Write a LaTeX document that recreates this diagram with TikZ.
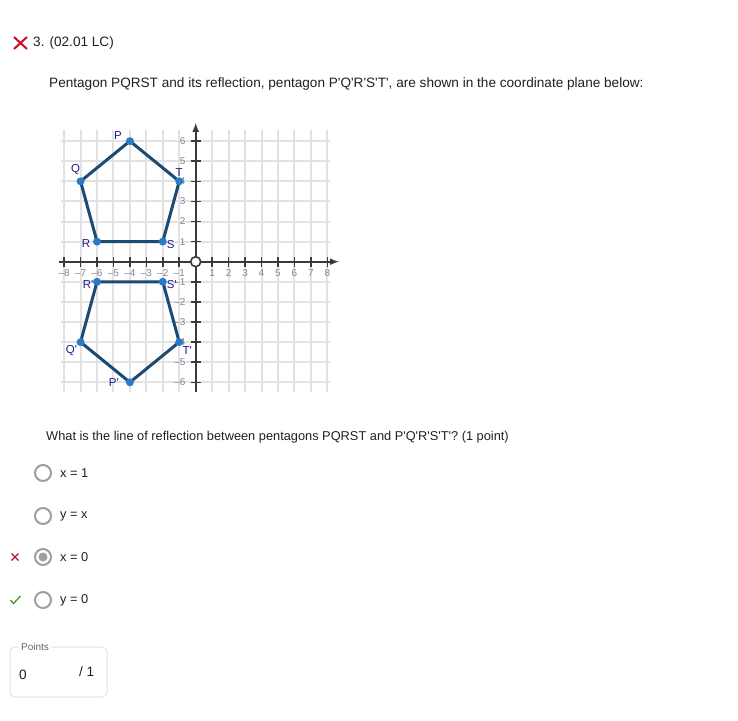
\documentclass[tikz,border=0pt]{standalone}
\usepackage{fontspec}
\setmainfont{Liberation Sans}
\usepackage{tikz}
\definecolor{navy}{HTML}{1B4A72}
\definecolor{dotblue}{HTML}{2A7BC6}
\definecolor{lblblue}{HTML}{1E1E8C}
\definecolor{tickgrey}{HTML}{7E879C}
\definecolor{gridgrey}{HTML}{E2E2E2}
\definecolor{axisgrey}{HTML}{3A3A3A}
\definecolor{wrongred}{HTML}{C0102A}
\definecolor{rightgreen}{HTML}{4A9A2A}
\definecolor{radiogrey}{HTML}{9E9E9E}
\definecolor{txt}{HTML}{212121}
\newcommand{\pr}{\textquotesingle}
\tikzstyle{gridln}=[gridgrey,line width=2pt]
\tikzstyle{axisln}=[axisgrey,line width=2pt,-latex]
\tikzstyle{tick}=[axisgrey,line width=1.6pt]
\tikzstyle{ticklbl}=[text=tickgrey,font=\fontsize{10}{12}\selectfont,inner sep=1pt]
\tikzstyle{edge}=[navy,line width=3pt,line join=round]
\tikzstyle{pt}=[circle,fill=dotblue,inner sep=0pt,minimum size=8pt]
\tikzstyle{lbl}=[text=lblblue,font=\fontsize{11.5}{13}\selectfont,inner sep=0pt]
\tikzstyle{radio}=[circle,draw=radiogrey,line width=2pt,inner sep=0pt,minimum size=16pt]
\tikzstyle{body}=[text=txt,font=\fontsize{13.6}{16}\selectfont,inner sep=0pt,anchor=west]
\tikzstyle{small}=[body,font=\fontsize{12.8}{15}\selectfont]

\begin{document}
\begin{tikzpicture}[x=1pt,y=-1pt]
  \useasboundingbox[fill=white] (0,0) rectangle (738,720);

  % heading
  \coordinate (xa) at (14,37); \coordinate (xb) at (27,49);
  \coordinate (xc) at (27,37); \coordinate (xd) at (14,49);
  \draw[wrongred,line width=2pt] (xa)--(xb) (xc)--(xd);
  \node[body] (head) at (33,43) {3. (02.01 LC)};
  \node[body] (intro) at (49,84) {Pentagon PQRST and its reflection, pentagon P\pr Q\pr R\pr S\pr T\pr, are shown in the coordinate plane below:};

  % coordinate plane
  \begin{scope}[shift={(195.7,261.7)},x=16.45pt,y=20.1pt]
    \foreach \i in {-8,...,8} \draw[gridln] (\i,-6.5)--(\i,6.55);
    \foreach \j in {-6,...,6} \draw[gridln] (-8.2,\j)--(8.15,\j);
    \coordinate (xl) at (-8.3,0); \coordinate (xr) at (8.7,0);
    \coordinate (yb) at (0,-6.5); \coordinate (yt) at (0,6.9);
    \draw[axisln] (xl)--(xr);
    \draw[axisln] (yb)--(yt);
    \foreach \i/\s in {-8/\textendash8,-7/\textendash7,-6/\textendash6,-5/\textendash5,-4/\textendash4,-3/\textendash3,-2/\textendash2,-1/\textendash1,1/1,2/2,3/3,4/4,5/5,6/6,7/7,8/8} {
      \draw[tick] (\i,-0.25)--(\i,0.25);
      \node[ticklbl] (tx\i) at (\i,-0.55) {\s};
    }
    \foreach \j/\s in {-6/\textendash6,-5/\textendash5,-4/\textendash4,-3/\textendash3,-2/\textendash2,-1/\textendash1,1/1,2/2,3/3,4/4,5/5,6/6} {
      \draw[tick] (-0.3,\j)--(0.3,\j);
      \node[ticklbl,anchor=east] (ty\j) at (-0.55,\j) {\s};
    }
    \node[circle,draw=axisgrey,line width=1.6pt,fill=white,inner sep=0pt,minimum size=10pt] (O) at (0,0) {};

    % pentagon PQRST
    \coordinate (P) at (-4,6); \coordinate (Q) at (-7,4); \coordinate (R) at (-6,1);
    \coordinate (S) at (-2,1); \coordinate (T) at (-1,4);
    \draw[edge] (P)--(Q)--(R)--(S)--(T)--cycle;
    % pentagon P'Q'R'S'T'
    \coordinate (P') at (-4,-6); \coordinate (Q') at (-7,-4); \coordinate (R') at (-6,-1);
    \coordinate (S') at (-2,-1); \coordinate (T') at (-1,-4);
    \draw[edge] (P')--(Q')--(R')--(S')--(T')--cycle;

    \foreach \v in {P,Q,R,S,T,P',Q',R',S',T'} \node[pt] at (\v) {};

    \node[lbl] (lP) at ([xshift=-12pt,yshift=6pt]P) {P};
    \node[lbl] (lQ) at ([xshift=-5pt,yshift=12pt]Q) {Q};
    \node[lbl] (lT) at ([xshift=0pt,yshift=9pt]T) {T};
    \node[lbl] (lR) at ([xshift=-11pt,yshift=-2pt]R) {R};
    \node[lbl] (lS) at ([xshift=8pt,yshift=-3pt]S) {S};
    \node[lbl] (lR') at ([xshift=-9pt,yshift=-3pt]R') {R\pr};
    \node[lbl] (lS') at ([xshift=9pt,yshift=-3pt]S') {S\pr};
    \node[lbl] (lQ') at ([xshift=-9pt,yshift=-8pt]Q') {Q\pr};
    \node[lbl] (lT') at ([xshift=8pt,yshift=-8pt]T') {T\pr};
    \node[lbl] (lP') at ([xshift=-16pt,yshift=0pt]P') {P\pr};
  \end{scope}

  % question and options
  \node[small] (quest) at (46,437) {What is the line of reflection between pentagons PQRST and P\pr Q\pr R\pr S\pr T\pr? (1 point)};
  \node[radio] (o1) at (43,473) {};
  \node[radio] (o2) at (43,516) {};
  \node[radio] (o3) at (43,557) {};
  \node[radio] (o4) at (43,600) {};
  \node[circle,fill=radiogrey,inner sep=0pt,minimum size=9pt] (sel) at (o3) {};
  \node[small] (t1) at (60,473) {x = 1};
  \node[small] (t2) at (60,516) {y = x};
  \node[small] (t3) at (60,557) {x = 0};
  \node[small] (t4) at (60,600) {y = 0};
  \coordinate (ma) at (11.5,553.5); \coordinate (mb) at (18.5,560.5);
  \coordinate (mc) at (18.5,553.5); \coordinate (md) at (11.5,560.5);
  \draw[wrongred,line width=1.3pt] (ma)--(mb) (mc)--(md);
  \coordinate (ca) at (10.5,600); \coordinate (cb) at (13.5,603.5); \coordinate (cc) at (20.5,596);
  \draw[rightgreen,line width=1.3pt] (ca)--(cb)--(cc);

  % points box
  \draw[gridgrey,line width=1pt,rounded corners=5pt] (10,647) rectangle (107,697);
  \node[fill=white,text=black!60,font=\fontsize{10}{12}\selectfont,inner sep=2pt] (ptsl) at (35,647) {Points};
  \node[body] (score) at (19,675) {0};
  \node[body] (outof) at (79,672) {/ 1};
\end{tikzpicture}
\end{document}
